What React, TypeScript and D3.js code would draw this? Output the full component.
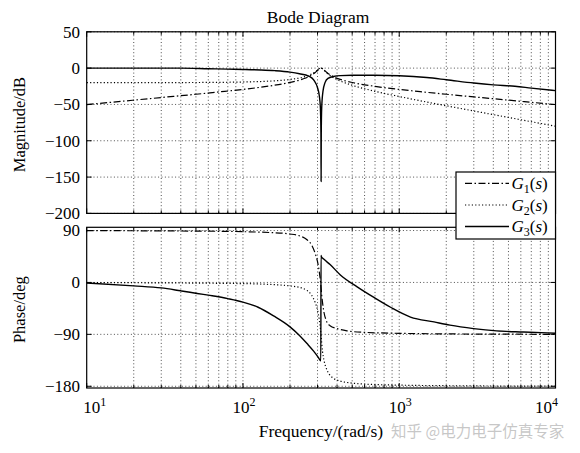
import React from 'react';
import * as d3 from 'd3';

// ---------- data ----------
const decadeTicks = [10, 100, 1000, 10000];
const magTicks = [50, 0, -50, -100, -150, -200];
const phaseTicks = [90, 0, -90, -180];
const legendIdx = ['1', '2', '3'];

const g1MagFreq = [10, 20, 30, 50, 70, 100, 150, 200, 240, 270, 290, 300, 308, 316, 325, 335, 350, 380, 420, 500, 700, 1000, 1500, 2000, 3000, 5000, 7000, 10000];
const g1MagDb = [-50.2, -44.1, -40.5, -36.0, -32.8, -29.3, -24.4, -19.7, -15.2, -10.6, -6.1, -3.3, -1.1, 0, -1.2, -3.8, -7.3, -11.9, -15.5, -19.8, -25.1, -29.3, -33.3, -36.0, -39.6, -44.1, -47.1, -50.2];

const g2MagFreq = [10, 20, 30, 50, 70, 100, 150, 200, 240, 270, 290, 300, 308, 316, 325, 335, 350, 380, 420, 500, 700, 1000, 1500, 2000, 3000, 5000, 7000, 10000];
const g2MagDb = [-20, -20, -19.9, -19.8, -19.6, -19.1, -17.8, -15.6, -12.7, -9.0, -5.2, -2.6, -0.6, 0.2, -1.3, -4.2, -8.0, -13.3, -17.8, -23.6, -31.9, -39.1, -46.7, -51.8, -59.0, -67.9, -73.8, -80.0];

const g3MagFreq = [10, 40, 60, 80, 100, 130, 160, 200, 230, 263, 285, 300, 308, 313, 315.5, 316.2, 317, 319, 325, 335, 350, 380, 420, 500, 700, 1000, 1500, 2000, 3000, 4000, 5500, 7000, 10000];
const g3MagDb = [0, 0, -0.8, -1.4, -1.8, -2.5, -3.5, -5.5, -7.8, -11, -17, -27, -38, -55, -90, -156, -90, -55, -32, -20, -14, -11.5, -10.3, -9.8, -9.8, -10.5, -13, -16, -20.5, -23, -25, -27.5, -31];

const g1PhFreq = [10, 50, 100, 150, 200, 240, 257, 275, 290, 300, 308, 313, 318, 323, 328, 340, 361, 400, 463, 600, 1000, 2000, 5000, 10000];
const g1PhDeg = [89.8, 89, 88, 86.5, 84, 79, 74, 65, 50, 36, 18, 3, -18, -35, -48, -65, -75, -80, -84, -86.5, -88.2, -89.2, -89.7, -90];

const g2PhFreq = [10, 100, 150, 200, 240, 257, 275, 290, 300, 308, 313, 316, 319, 323, 330, 345, 370, 420, 500, 700, 1000, 3000, 10000];
const g2PhDeg = [-0.2, -2, -3.5, -6, -10, -14, -22, -35, -48, -65, -80, -92, -105, -120, -135, -152, -164, -171, -174.5, -177, -178, -179.4, -179.8];

const g3PhFreq = [10, 20, 30, 40, 60, 80, 100, 125, 157, 200, 230, 257, 285, 300, 310, 315, 315.8, 317, 330, 361, 420, 538, 689, 880, 1180, 1670, 2110, 2990, 4200, 6240, 10000];
const g3PhDeg = [-1, -6, -9.5, -14.5, -22, -28, -34, -43, -58, -77, -92, -106, -120, -128, -134, -136, 47, 45, 40, 31, 13, -7.6, -26, -43, -60, -68.4, -74, -80, -84, -86, -88];

// ---------- layout ----------
const W = 580, H = 453;
const X0 = 86.7, X1 = 555.5;
const FONT = '"Liberation Serif", "Times New Roman", serif';

const x = d3.scaleLog().domain([10, 10000]).range([X0, X1]);
const yMag = d3.scaleLinear().domain([-200, 50]).range([213.4, 31.8]);
const yPh = d3.scaleLinear().domain([-183, 95.6]).range([388, 227.3]);

const minorTicks: number[] = [];
[10, 100, 1000].forEach((d) => {
  for (let m = 2; m <= 9; m++) minorTicks.push(m * d);
});

const styles = [
  { dash: '7,2.5,1.5,2.5', width: 1.2 },
  { dash: '1.2,2.2', width: 1.2 },
  { dash: undefined as string | undefined, width: 1.4 },
];

function pathFor(fs: number[], vs: number[], y: d3.ScaleLinear<number, number>) {
  const pts = fs.map((f, i) => [f, vs[i]] as [number, number]);
  return d3
    .line<[number, number]>()
    .x((d) => x(d[0]))
    .y((d) => y(d[1]))
    .curve(d3.curveMonotoneX)(pts) as string;
}

function Panel({ id, y, ticks, series, showXLabels, yLabel }: any) {
  const [yb, yt] = y.range();
  const top = Math.min(yb, yt), bottom = Math.max(yb, yt);
  return (
    <g>
      <defs>
        <clipPath id={id}>
          <rect x={X0} y={top} width={X1 - X0} height={bottom - top} />
        </clipPath>
      </defs>
      <rect x={X0} y={top} width={X1 - X0} height={bottom - top} fill="#fff" />
      <g stroke="#222" strokeWidth={0.8} strokeDasharray="1,2.4">
        {[...minorTicks, 100, 1000].map((f) => (
          <line key={'gx' + f} x1={x(f)} x2={x(f)} y1={top} y2={bottom} />
        ))}
        {ticks.map((v: number) => (
          <line key={'gy' + v} x1={X0} x2={X1} y1={y(v)} y2={y(v)} />
        ))}
      </g>
      <g clipPath={`url(#${id})`} fill="none" stroke="#000">
        {series.map((s: any, i: number) => (
          <path
            key={i}
            d={pathFor(s.f, s.v, y)}
            strokeWidth={styles[i].width}
            strokeDasharray={styles[i].dash}
            strokeLinejoin="round"
          />
        ))}
      </g>
      <g stroke="#000" strokeWidth={1}>
        {decadeTicks.map((f) => (
          <g key={'mt' + f}>
            <line x1={x(f)} x2={x(f)} y1={bottom} y2={bottom - 5} />
            <line x1={x(f)} x2={x(f)} y1={top} y2={top + 5} />
          </g>
        ))}
        {minorTicks.map((f) => (
          <g key={'nt' + f}>
            <line x1={x(f)} x2={x(f)} y1={bottom} y2={bottom - 3} />
            <line x1={x(f)} x2={x(f)} y1={top} y2={top + 3} />
          </g>
        ))}
        {ticks.map((v: number) => (
          <g key={'yt' + v}>
            <line x1={X0} x2={X0 + 5} y1={y(v)} y2={y(v)} />
            <line x1={X1} x2={X1 - 5} y1={y(v)} y2={y(v)} />
          </g>
        ))}
      </g>
      <rect x={X0} y={top} width={X1 - X0} height={bottom - top} fill="none" stroke="#000" strokeWidth={1.2} />
      <g fontFamily={FONT} fontSize={17} textAnchor="end" fill="#000">
        {ticks.map((v: number) => (
          <text key={'yl' + v} x={80} y={y(v)} dy="0.35em">
            {v < 0 ? '\u2212' + Math.abs(v) : String(v)}
          </text>
        ))}
      </g>
      <text
        transform={`translate(25,${(top + bottom) / 2 + 2}) rotate(-90)`}
        textAnchor="middle"
        fontFamily={FONT}
        fontSize={16.5}
      >
        {yLabel}
      </text>
      {showXLabels && (
        <g fontFamily={FONT} fontSize={17} fill="#000">
          {decadeTicks.map((f, i) => {
            const exp = Math.round(Math.log10(f));
            let anchor = 'middle';
            let px = x(f) + 1;
            if (i === 0) { anchor = 'start'; px = x(f) - 3.5; }
            if (i === decadeTicks.length - 1) { anchor = 'end'; px = x(f) + 2.5; }
            return (
              <text key={'xl' + f} x={px} y={413} textAnchor={anchor}>
                10<tspan fontSize={12} dy={-7}>{exp}</tspan>
              </text>
            );
          })}
        </g>
      )}
    </g>
  );
}

function LegendLabel({ n, xPos, yPos }: any) {
  return (
    <text x={xPos} y={yPos} dy="0.35em" fontFamily={FONT} fontSize={17}>
      <tspan fontStyle="italic">G</tspan>
      <tspan fontSize={12} dy={4}>{n}</tspan>
      <tspan dy={-4}>(</tspan>
      <tspan fontStyle="italic">s</tspan>
      <tspan>)</tspan>
    </text>
  );
}

export default function App() {
  const magSeries = [
    { f: g1MagFreq, v: g1MagDb },
    { f: g2MagFreq, v: g2MagDb },
    { f: g3MagFreq, v: g3MagDb },
  ];
  const phSeries = [
    { f: g1PhFreq, v: g1PhDeg },
    { f: g2PhFreq, v: g2PhDeg },
    { f: g3PhFreq, v: g3PhDeg },
  ];
  const legRows = [183.3, 205, 226.5];
  return (
    <svg
      width={W}
      height={H}
      viewBox={`0 0 ${W} ${H}`}
      style={{ position: 'absolute', left: 0, top: 0, background: '#fff' }}
    >
      <rect x={0} y={0} width={W} height={H} fill="#fff" />
      <text x={318} y={23} textAnchor="middle" fontFamily={FONT} fontSize={17.5}>
        Bode Diagram
      </text>
      <Panel id="clipMag" y={yMag} ticks={magTicks} series={magSeries} showXLabels={false} yLabel="Magnitude/dB" />
      <Panel id="clipPh" y={yPh} ticks={phaseTicks} series={phSeries} showXLabels={true} yLabel="Phase/deg" />
      <g>
        <rect x={456} y={172} width={X1 - 456} height={67} fill="#fff" stroke="#000" strokeWidth={1.2} />
        {legendIdx.map((n, i) => (
          <g key={n}>
            <line
              x1={465}
              x2={509}
              y1={legRows[i]}
              y2={legRows[i]}
              stroke="#000"
              strokeWidth={styles[i].width}
              strokeDasharray={styles[i].dash}
            />
            <LegendLabel n={n} xPos={511.5} yPos={legRows[i]} />
          </g>
        ))}
      </g>
      <text x={321} y={437} textAnchor="middle" fontFamily={FONT} fontSize={17.5}>
        Frequency/(rad/s)
      </text>
      <text x={391} y={437} fontFamily={'"Noto Sans CJK SC", sans-serif'} fontSize={15.5} fill="#bdbdbd" fillOpacity={0.85}>
        知乎 @电力电子仿真专家
      </text>
    </svg>
  );
}
